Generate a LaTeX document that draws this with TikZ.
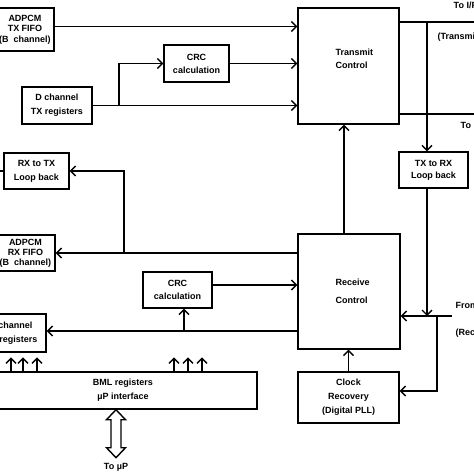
\documentclass[tikz,border=0pt]{standalone}
\usepackage{fontspec}
\setmainfont{Liberation Sans}
\usetikzlibrary{arrows.meta}
\begin{document}
\begin{tikzpicture}[x=1pt,y=-1pt, line width=1.4pt,
  blk/.style={draw, rectangle, inner sep=0pt, align=center, font=\bfseries\fontsize{9}{14}\selectfont},
  lbl/.style={inner sep=0pt, font=\bfseries\fontsize{9}{11}\selectfont},
  arr/.style={-{Straight Barb[length=5pt,width=10pt]}}]
\fill[white] (0,0) rectangle (474,474);
\useasboundingbox (0,0) rectangle (474,474);
% blocks
\node[blk, minimum width=58pt, minimum height=43pt, font=\bfseries\fontsize{9}{10.5}\selectfont] (txfifo) at (25,29.5) {ADPCM\\TX FIFO\\(B~~channel)};
\node[blk, minimum width=70pt, minimum height=37pt] (dtx) at (57,105.5) {D channel\\TX registers};
\node[blk, minimum width=65pt, minimum height=37pt, font=\bfseries\fontsize{9}{13}\selectfont] (crc1) at (196.5,63.5) {CRC\\calculation};
\node[draw, minimum width=101pt, minimum height=116pt, inner sep=0pt] (tc) at (348.5,66) {};
\node[lbl, align=left, anchor=north west, font=\bfseries\fontsize{9}{13}\selectfont] (tctext) at (335,48) {Transmit\\Control};
\node[blk, minimum width=69pt, minimum height=36pt, font=\bfseries\fontsize{9}{12}\selectfont] (txrx) at (433.5,170) {TX to RX\\Loop back};
\node[blk, minimum width=65pt, minimum height=36pt] (rxtx) at (36.5,171) {RX to TX\\Loop back};
\node[blk, minimum width=59pt, minimum height=36pt, font=\bfseries\fontsize{9}{10}\selectfont] (rxfifo) at (25.5,253) {ADPCM\\RX FIFO\\(B~~channel)};
\node[draw, minimum width=102pt, minimum height=115pt, inner sep=0pt] (rc) at (349,291.5) {};
\node[lbl, align=left, anchor=north west, font=\bfseries\fontsize{9}{18}\selectfont] (rctext) at (335,278.5) {Receive\\Control};
\node[blk, minimum width=69pt, minimum height=36pt, font=\bfseries\fontsize{9}{13}\selectfont] (crc2) at (177.5,290) {CRC\\calculation};
\node[blk, minimum width=70pt, minimum height=38pt] (drx) at (11,333) {D channel\\RX registers};
\node[blk, minimum width=101pt, minimum height=51pt] (cr) at (348.5,397.5) {Clock\\Recovery\\(Digital PLL)};
\node[blk, minimum width=268pt, minimum height=37pt] (bml) at (123,390.5) {BML registers\\µP interface};
% side labels
\node[lbl, anchor=west] (toio) at (453,5) {To I/F};
\node[lbl, anchor=west] (txlbl) at (437,37) {(Transmit)};
\node[lbl, anchor=west] (to2) at (460,125) {To};
\node[lbl, anchor=west] (from) at (455,305) {From};
\node[lbl, anchor=west] (rxlbl) at (455,333) {(Receive)};
\node[lbl] (tomup) at (116,467) {To µP};
% free coordinates
\coordinate (br1) at (119,105.5);
\coordinate (out1) at (474,22);
\coordinate (out2) at (474,114);
\coordinate (vx) at (427,0);
\coordinate (in1) at (452,316);
\coordinate (br2) at (437,316);
\coordinate (br3) at (124,253);
\coordinate (br4) at (184,331);
\coordinate (lx) at (-10,171);
% transmit side
\draw[arr] ([yshift=3pt]txfifo.east) -- ([yshift=3pt]txfifo.east -| tc.west);
\draw[arr] (dtx.east) -- (dtx.east -| tc.west);
\draw[arr] (br1) |- (crc1.west);
\draw[arr] (crc1.east) -- (crc1.east -| tc.west);
\draw[arr] ([xshift=-5pt]rc.north) -- ([xshift=-5pt]rc.north |- tc.south);
\draw (tc.east |- out1) -- (out1);
\draw (tc.east |- out2) -- (out2);
\draw[arr] (vx |- out1) -- (vx |- txrx.north);
\draw[arr] (vx |- txrx.south) -- (vx |- in1);
% receive side
\draw[arr] (in1) -- (rc.east |- in1);
\draw[arr] (br2) |- ([yshift=6.5pt]cr.east);
\draw[arr] (cr.north) -- (cr.north |- rc.south);
\draw[arr] (rc.west |- rxfifo.east) -- (rxfifo.east);
\draw[arr] (br3) |- (rxtx.east);
\draw[arr] ([yshift=5pt]crc2.east) -- ([yshift=5pt]crc2.east -| rc.west);
\draw[arr] ([yshift=2pt]drx.east -| rc.west) -- ([yshift=2pt]drx.east);
\draw[arr] (br4) -- (br4 |- crc2.south);
\draw (rxtx.west) -- (lx);
% bus arrows
\foreach \x in {11,23,37,174,188,202} {
  \coordinate (ux) at (\x,0);
  \draw[arr] (bml.north -| ux) -- ++(0,-14);
}
% double arrow to uP
\draw (tomup |- bml.south) -- ++(9.5,10) -- ++(-4.5,0) -- ++(0,28) -- ++(4.5,0) -- ++(-9.5,10) -- ++(-9.5,-10) -- ++(4.5,0) -- ++(0,-28) -- ++(-4.5,0) -- cycle;
\end{tikzpicture}
\end{document}
